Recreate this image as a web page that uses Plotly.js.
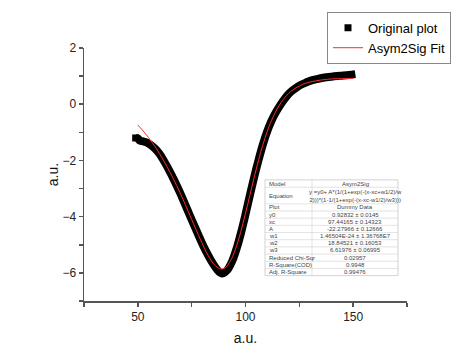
<!DOCTYPE html>
<html>
<head>
<meta charset="utf-8">
<script src="https://cdn.plot.ly/plotly-3.0.1.min.js"></script>
<style>html,body{margin:0;padding:0;background:#fff;}#chart{width:474px;height:362px;}</style>
</head>
<body>
<div id="chart"></div>
<script>
// ---- Data ----
const dataX = [49, 50, 51, 52, 54, 56, 58, 60, 62, 64, 66, 68, 70, 72, 74, 76, 78, 80, 82, 84, 86, 87, 88, 89, 90, 91, 92, 94, 96, 98, 100, 102, 104, 106, 108, 110, 112, 114, 116, 118, 120, 122, 124, 126, 128, 130, 133, 136, 140, 144, 148, 151];
const dataY = [-1.20, -1.22, -1.30, -1.31, -1.36, -1.45, -1.58, -1.76, -2.00, -2.27, -2.57, -2.88, -3.22, -3.57, -3.93, -4.28, -4.63, -4.97, -5.28, -5.56, -5.80, -5.90, -5.98, -6.02, -6.00, -5.94, -5.85, -5.55, -5.10, -4.55, -3.92, -3.25, -2.60, -2.00, -1.45, -0.98, -0.60, -0.30, -0.05, 0.17, 0.36, 0.50, 0.61, 0.70, 0.77, 0.83, 0.89, 0.94, 0.98, 1.01, 1.04, 1.07];

const fitX = [50, 52, 55, 58, 60, 62, 65, 68, 70, 72, 75, 78, 80, 82, 85, 87, 88, 89, 90, 91, 92, 94, 95, 97, 100, 102, 104, 106, 108, 110, 112, 115, 118, 120, 122, 125, 128, 130, 135, 140, 145, 150];
const fitY = [-0.74, -0.91, -1.19, -1.51, -1.75, -2.01, -2.43, -2.89, -3.22, -3.56, -4.10, -4.63, -4.97, -5.29, -5.66, -5.81, -5.85, -5.86, -5.84, -5.79, -5.70, -5.42, -5.23, -4.76, -3.88, -3.25, -2.61, -2.01, -1.46, -0.99, -0.59, -0.12, 0.21, 0.38, 0.51, 0.65, 0.75, 0.79, 0.86, 0.90, 0.91, 0.92];

const seriesNames = ["Original plot", "Asym2Sig Fit"];
const xTickVals = [50, 100, 150];
const yTickVals = [2, 0, -2, -4, -6];
const axisTitle = "a.u.";

const tableLabels = ["Model", "Equation", "Plot", "y0", "xc", "A", "w1", "w2", "w3", "Reduced Chi-Sqr", "R-Square(COD)", "Adj. R-Square"];
const tableValues = ["Asym2Sig", "y =y0+ A*(1/(1+exp(-(x-xc+w1/2)/w<br>2)))*(1-1/(1+exp(-(x-xc-w1/2)/w3)))", "Dummy Data", "0.92832 ± 0.0145", "97.44165 ± 0.14323", "-22.27966 ± 0.12666", "1.46504E-24 ± 1.36768E7", "18.84521 ± 0.16053", "6.61976 ± 0.06995", "0.02957", "0.9948", "0.99476"];

// ---- Layout geometry (pixels) ----
const L = 84, T = 42, W = 323, H = 259;
const px2x = p => (p - L) / W;
const px2y = p => (T + H - p) / H;
const FONT = 'Liberation Sans, Arial, sans-serif';

const traces = [
  {x: dataX, y: dataY, mode: 'lines', line: {color: '#000', width: 8, shape: 'spline', smoothing: 1}, showlegend: false, hoverinfo: 'skip'},
  // starting square of the original data (also provides the legend symbol)
  {x: dataX.slice(0, 1), y: dataY.slice(0, 1), mode: 'markers', name: seriesNames[0], marker: {symbol: 'square', size: 7, color: '#000'}},
  {x: fitX, y: fitY, mode: 'lines', name: seriesNames[1], line: {color: '#ff2a2a', width: 1, shape: 'spline', smoothing: 1}}
];

// table geometry
const tL = 265, tR = 398, tDiv = 312, tTop = 177;
const rowEdges = [tTop, 184.5, 201.5];
for (let k = 1; k <= 10; k++) rowEdges.push(201.5 + 7.35 * k);
const tBot = rowEdges[rowEdges.length - 1];

const shapes = [{type: 'rect', xref: 'paper', yref: 'paper', x0: px2x(tL), x1: px2x(tR), y0: px2y(tTop), y1: px2y(tBot), fillcolor: '#fff', line: {color: '#c8c8c8', width: 0.8}, layer: 'above'}];
for (let i = 1; i < rowEdges.length - 1; i++) {
  shapes.push({type: 'line', xref: 'paper', yref: 'paper', x0: px2x(tL), x1: px2x(tR), y0: px2y(rowEdges[i]), y1: px2y(rowEdges[i]), line: {color: '#d0d0d0', width: 0.6}, layer: 'above'});
}
shapes.push({type: 'line', xref: 'paper', yref: 'paper', x0: px2x(tDiv), x1: px2x(tDiv), y0: px2y(tTop), y1: px2y(tBot), line: {color: '#d0d0d0', width: 0.6}, layer: 'above'});

const annotations = [];
tableLabels.forEach((lab, i) => {
  const cy = (rowEdges[i] + rowEdges[i + 1]) / 2;
  annotations.push({xref: 'paper', yref: 'paper', x: px2x(tL + 1.5), y: px2y(cy), xanchor: 'left', yanchor: 'middle', text: lab, showarrow: false, font: {family: FONT, size: 6, color: '#444'}});
  annotations.push({xref: 'paper', yref: 'paper', x: px2x((tDiv + tR) / 2), y: px2y(cy), xanchor: 'center', yanchor: 'middle', text: tableValues[i], showarrow: false, align: 'center', font: {family: FONT, size: 6, color: '#444'}});
});

const axisCommon = {
  showline: true, linecolor: '#555', linewidth: 1.5,
  ticks: 'outside', ticklen: 4, tickwidth: 1.5, tickcolor: '#555',
  showgrid: false, zeroline: false, mirror: false,
  tickfont: {family: FONT, size: 12, color: '#222'}
};
const minorCommon = {ticks: 'outside', ticklen: 4, tickwidth: 1.5, tickcolor: '#555'};

const layout = {
  width: 474, height: 362,
  margin: {l: L, r: 474 - L - W, t: T, b: 362 - T - H},
  paper_bgcolor: '#fff', plot_bgcolor: '#fff',
  xaxis: Object.assign({}, axisCommon, {range: [25, 175], tickvals: xTickVals, minor: Object.assign({dtick: 25, tick0: 0}, minorCommon), title: {text: axisTitle, standoff: 10, font: {family: FONT, size: 14, color: '#111'}}}),
  yaxis: Object.assign({}, axisCommon, {range: [-7, 2], tickvals: yTickVals, minor: Object.assign({dtick: 1, tick0: 0}, minorCommon), title: {text: axisTitle, standoff: 0, font: {family: FONT, size: 14, color: '#111'}}}),
  legend: {x: px2x(327), y: px2y(5), xanchor: 'left', yanchor: 'top', xref: 'paper', yref: 'paper', bgcolor: 'rgba(255,255,255,0)', bordercolor: '#888', borderwidth: 1, font: {family: FONT, size: 13, color: '#000'}, itemwidth: 30, tracegroupgap: 0},
  shapes: shapes,
  annotations: annotations,
  showlegend: true
};

Plotly.newPlot('chart', traces, layout, {staticPlot: true, displayModeBar: false});
</script>
</body>
</html>
